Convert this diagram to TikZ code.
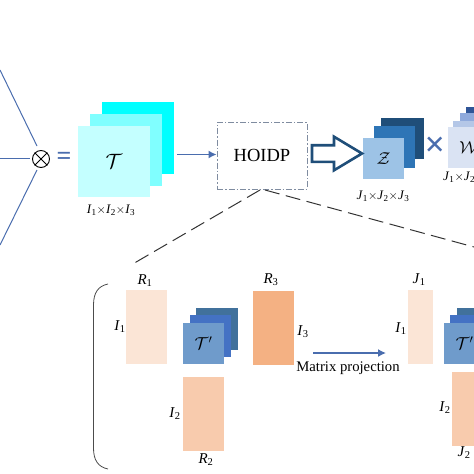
\documentclass[tikz,border=0pt]{standalone}
\usepackage{amsmath,amssymb}
\usepackage{fontspec}
\setmainfont{Liberation Serif}
\usetikzlibrary{positioning,arrows.meta,calc,shapes.arrows}
\definecolor{tcyan}{HTML}{00FFFF}
\definecolor{tcyanmid}{HTML}{80FFFF}
\definecolor{tcyanlight}{HTML}{C4FFFF}
\definecolor{zdark}{HTML}{1F4E79}
\definecolor{zmid}{HTML}{2E75B6}
\definecolor{zlight}{HTML}{9DC3E6}
\definecolor{wdark}{HTML}{2F5597}
\definecolor{wmid}{HTML}{8FAADC}
\definecolor{wlight}{HTML}{B4C7E7}
\definecolor{wpale}{HTML}{DAE3F3}
\definecolor{pdark}{HTML}{41719C}
\definecolor{pmid}{HTML}{4472C4}
\definecolor{plight}{HTML}{6F9BCB}
\definecolor{fpale}{HTML}{FBE5D6}
\definecolor{fmid}{HTML}{F8CBAD}
\definecolor{fdark}{HTML}{F4B183}
\definecolor{linkblue}{HTML}{4A6DAE}
\definecolor{hoidpgray}{HTML}{7F8CA0}
\newcommand{\dimsym}[2]{\textit{#1}\textsubscript{#2}}
\begin{document}
\begin{tikzpicture}[x=1pt,y=-1pt,
    sheet/.style={anchor=north west, inner sep=0pt, outer sep=0pt, fill=#1, minimum width=41pt, minimum height=41pt},
    matrixbox/.style={anchor=north west, inner sep=0pt, outer sep=0pt, fill=#1, minimum width=41pt, minimum height=74pt},
    dimlabel/.style={inner sep=0pt, font=\fontsize{15}{16}\selectfont},
    sizelabel/.style={inner sep=0pt, font=\fontsize{13}{14}\selectfont},
    arrow/.style={-{Latex[length=8pt,width=8pt]}, line width=1.4pt, draw=linkblue},
    spoke/.style={line width=1pt, draw=linkblue},
    dashlink/.style={line width=1pt, draw=black!80, dash pattern=on 15pt off 6.5pt},
]
\useasboundingbox (0,0) rectangle (474,474);
% tensor T
\node[sheet=tcyan, minimum width=72pt, minimum height=72pt] (t3) at (102,102) {};
\node[sheet=tcyanmid, minimum width=72pt, minimum height=72pt] (t2) at (90,114) {};
\node[sheet=tcyanlight, minimum width=72pt, minimum height=71pt, font=\fontsize{22}{24}\selectfont] (t1) at (78,126) {$\mathcal{T}$};
\node[sizelabel] (tsize) at (111,210) {\dimsym{I}{1}$\times$\dimsym{I}{2}$\times$\dimsym{I}{3}};
% product and inputs
\node[draw, circle, line width=0.9pt, minimum size=17pt, inner sep=0pt] (otimes) at (41,159) {};
\draw[line width=0.9pt] (otimes.north west) -- (otimes.south east) (otimes.north east) -- (otimes.south west);
\coordinate (inup) at (0,70);
\coordinate (inmid) at (0,158);
\coordinate (indown) at (0,245);
\draw[spoke] (inup) -- (37,146);
\draw[spoke] (inmid) -- (30,158);
\draw[spoke] (indown) -- (37,170);
\node[inner sep=0pt, font=\fontsize{26}{28}\selectfont\bfseries, text=linkblue] (eq) at (64,158) {=};
% HOIDP
\node[draw=hoidpgray, dash pattern=on 6pt off 2pt on 1.5pt off 2pt, line width=0.9pt, minimum width=90pt, minimum height=67pt, font=\fontsize{18.5}{20}\selectfont] (hoidp) at (262,155.5) {HOIDP};
\coordinate (tout) at (177,154.5);
\draw[arrow] (tout) -- (tout -| hoidp.west);
% core Z
\node[sheet=zdark, minimum width=43pt] (z3) at (381,118) {};
\node[sheet=zmid, minimum height=42pt] (z2) at (374,126) {};
\node[sheet=zlight, font=\fontsize{18}{20}\selectfont] (z1) at (363,138) {$\mathcal{Z}$};
\node[sizelabel] (zsize) at (383,196) {\dimsym{J}{1}$\times$\dimsym{J}{2}$\times$\dimsym{J}{3}};
\node[inner sep=0pt, font=\fontsize{36}{38}\selectfont\bfseries, text=linkblue] (times) at (435,147) {×};
% core W
\node[sheet=wdark] (w4) at (466,107) {};
\node[sheet=wmid] (w3) at (460,113) {};
\node[sheet=wlight] (w2) at (453,121) {};
\node[sheet=wpale, font=\fontsize{18}{20}\selectfont] (w1) at (448,127) {$\mathcal{W}$};
\node[sizelabel, anchor=west] (wsize) at (443,177) {\dimsym{J}{1}$\times$\dimsym{J}{2}};
% hollow arrow
\node[draw=zdark, line width=2.6pt, fill=white, single arrow, minimum width=31pt, minimum height=50pt, single arrow head extend=8.5pt, single arrow tip angle=62, inner xsep=0pt, inner ysep=7pt, outer sep=0pt, anchor=tip] (hollow) at (362,153.5) {};
% dashed zoom lines
\coordinate (zoomleft) at (131,265);
\coordinate (zoomright) at (474,247);
\draw[dashlink] (260,190) -- (zoomleft);
\draw[dashlink] (265,190) -- (zoomright);
% bracket
\coordinate (brtop) at (108,284);
\coordinate (brbot) at (108,469);
\draw[line width=0.8pt, draw=black!70] (brtop) .. controls (98,286) and (93.5,293) .. (93.5,305) -- (93.5,448) .. controls (93.5,460) and (98,467) .. (brbot);
% factor matrices
\node[matrixbox=fpale] (a1) at (126,290) {};
\node[matrixbox=fdark] (a3) at (253,291) {};
\node[matrixbox=fmid] (a2) at (183,377) {};
\node[dimlabel] at (145,281) {\dimsym{R}{1}};
\node[dimlabel] at (120,327) {\dimsym{I}{1}};
\node[dimlabel] at (271,280) {\dimsym{R}{3}};
\node[dimlabel] at (303,332) {\dimsym{I}{3}};
\node[dimlabel] at (175,414) {\dimsym{I}{2}};
\node[dimlabel] at (206,460) {\dimsym{R}{2}};
% small tensor
\node[sheet=pdark, minimum width=42pt, minimum height=42pt] (p3) at (196,308) {};
\node[sheet=pmid, minimum height=42pt] (p2) at (190,315) {};
\node[sheet=plight, font=\fontsize{18}{20}\selectfont] (p1) at (183,323) {$\mathcal{T}'$};
% projection
\coordinate (projstart) at (313,353);
\coordinate (projend) at (386,353);
\draw[arrow] (projstart) -- (projend);
\node[inner sep=0pt, font=\fontsize{14.7}{16}\selectfont] (proj) at (348,368) {Matrix projection};
% projected factors
\node[matrixbox=fpale, minimum width=25pt] (b1) at (408,290) {};
\node[matrixbox=fmid] (b2) at (452,372) {};
\node[dimlabel] at (419,280) {\dimsym{J}{1}};
\node[dimlabel] at (401,329) {\dimsym{I}{1}};
\node[dimlabel] at (445,408) {\dimsym{I}{2}};
\node[dimlabel] at (464,453) {\dimsym{J}{2}};
% right small tensor
\node[sheet=pdark, minimum width=42pt, minimum height=42pt] (q3) at (457,308) {};
\node[sheet=pmid, minimum height=42pt] (q2) at (450,315) {};
\node[sheet=plight, font=\fontsize{18}{20}\selectfont] (q1) at (444,323) {$\mathcal{T}'$};
\end{tikzpicture}
\end{document}
